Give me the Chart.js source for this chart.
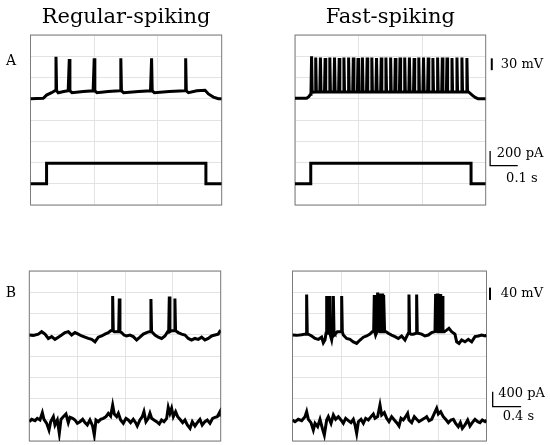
<!DOCTYPE html>
<html><head><meta charset="utf-8">
<script src="https://cdn.jsdelivr.net/npm/chart.js@4.4.1/dist/chart.umd.min.js"></script>
<style>
html,body{margin:0;padding:0;background:#fff;width:550px;height:445px;overflow:hidden}
.w{position:absolute}
</style></head><body>
<div class="w" style="left:0;top:0;width:275px;height:230px"><canvas id="cA1"></canvas></div>
<div class="w" style="left:275px;top:0;width:275px;height:230px"><canvas id="cA2"></canvas></div>
<div class="w" style="left:0;top:230px;width:275px;height:215px"><canvas id="cB1"></canvas></div>
<div class="w" style="left:275px;top:230px;width:275px;height:215px"><canvas id="cB2"></canvas></div>
<script>
// ---------- Panel A, regular-spiking (time ms, voltage mV, current pA)
const rsVoltT = [0,46,58,76,88,100,120,136,150,190,226,240,280,322,336,390,433,447,500,556,570,600,630,642,660,678,690];
const rsVoltV = [-66,-65,-57,-51,-46,-51,-48,-46,-51,-48,-46,-51,-48,-46,-51,-48,-46,-51,-48,-46,-51,-46,-45,-54,-62,-66,-66];
const rsSpikeT = [92,140,230,326,437,560];
const rsSpikePeak = [40,34,36,36,36,36];
const rsSpikeFoot = [-46,-46,-46,-46,-46,-46];
const rsCurT = [0,58,58,633,633,690];
const rsCurI = [0,0,280,280,0,0];

// ---------- Panel A, fast-spiking
const fsVoltT = [0,42,50,56,628,641,652,662,690];
const fsVoltV = [-65,-65,-61,-55,-49,-57,-63,-66,-66];
const fsSpikeT = [60,75,92,109,126, 143,160,177,194,211, 228,244,261,278,295, 312,329,346,363,380, 397,414,431,448,465, 482,499,516,533,550, 568,586,604,622];
const fsSpikePeak = [41,38,38,37,38, 38,37,38,38,38, 37,38,38,38,37, 38,38,38,37,38, 38,38,37,38,38, 38,37,38,38,38, 37,38,38,37];
const fsSpikeFoot = [-50,-49,-49,-49,-49, -49,-49,-49,-49,-49, -49,-49,-49,-49,-49, -49,-49,-49,-49,-49, -49,-49,-49,-49,-49, -49,-49,-49,-49,-49, -49,-49,-49,-49];
const fsCurT = [0,57,57,637,637,690];
const fsCurI = [0,0,280,280,0,0];

// ---------- Panel B, regular-spiking
const blVoltT = [0,57,129,176,224,271,319,366,414,461,509,557,604,652,699,747,794,842,889,937,984,1032,1079,1127,1160,1212,1317,1350,1388,1436,1483,1531,1578,1626,1673,1711,1759,1792,1840,1887,1935,1973,2030,2125,2172,2220,2268,2315,2363,2410,2458,2505,2553,2600,2648,2695,2729];
const blVoltV = [-66,-67,-63,-55,-63,-77,-71,-80,-73,-66,-58,-55,-66,-58,-63,-69,-73,-77,-80,-88,-73,-69,-63,-58,-52,-55,-58,-66,-69,-66,-71,-82,-73,-63,-58,-55,-58,-66,-73,-77,-69,-55,-52,-58,-63,-66,-77,-82,-77,-80,-73,-82,-77,-69,-66,-63,-50];
const blSpikeT = [1189,1284,1735,1997,2077];
const blSpikePeak = [61,53,51,59,53];
const blSpikeFoot = [-52,-55,-55,-55,-52];
const blCurT = [0,34,81,114,152,186,209,248,281,305,343,366,400,428,452,485,523,556,580,618,651,685,723,761,794,827,865,903,927,951,984,1018,1056,1094,1127,1160,1189,1212,1246,1270,1303,1341,1379,1412,1445,1483,1517,1540,1578,1612,1635,1664,1697,1721,1745,1778,1816,1854,1887,1921,1959,1982,2006,2030,2054,2087,2116,2149,2187,2220,2254,2292,2325,2363,2396,2434,2467,2505,2539,2577,2615,2648,2681,2719,2729];
const blCurI = [-51,12,-24,38,-6,190,12,-95,-273,-51,83,-140,-6,-362,12,83,154,-77,65,38,-6,-95,-51,12,-77,-140,-6,-166,-407,-6,-51,12,38,83,172,100,394,154,83,172,-6,-95,38,-6,-77,12,-77,-166,-6,83,216,-51,38,172,38,-6,-51,-113,-6,-51,38,332,172,305,83,216,83,12,-77,-6,-140,-229,-51,-166,-77,12,-140,-51,-6,-95,38,65,83,216,83];

// ---------- Panel B, fast-spiking
const brVoltT = [0,59,129,176,223,270,317,364,410,434,457,495,532,551,598,631,715,762,809,856,903,950,997,1044,1090,1123,1170,1316,1348,1395,1442,1489,1536,1583,1667,1700,1771,1817,1864,1911,1958,2136,2169,2202,2239,2286,2310,2343,2380,2427,2474,2521,2568,2615,2662,2709,2730];
const brVoltV = [-66,-67,-65,-63,-63,-69,-77,-80,-73,-91,-82,-55,-66,-82,-63,-55,-66,-77,-80,-88,-93,-82,-73,-69,-63,-55,-66,-55,-60,-66,-71,-77,-69,-82,-63,-63,-60,-63,-69,-66,-58,-55,-50,-44,-55,-63,-88,-93,-82,-88,-80,-88,-71,-69,-66,-69,-66];
const brSpikeT = [199,481,518,575,692,1151,1198,1222,1245,1269,1287,1639,1747,2014,2038,2061,2085,2108];
const brSpikePeak = [66,61,61,61,61,64,72,69,64,69,64,66,66,67,69,64,67,61];
const brSpikeFoot = [-63,-60,-55,-60,-55,-55,-55,-55,-55,-55,-55,-60,-60,-55,-55,-55,-55,-55];
const brCurT = [0,35,82,129,176,199,223,260,293,317,354,387,420,448,481,504,542,575,607,645,682,715,748,786,823,856,880,903,927,964,997,1030,1067,1105,1137,1161,1198,1231,1255,1292,1325,1358,1395,1433,1466,1499,1527,1559,1592,1620,1639,1677,1714,1747,1780,1817,1855,1888,1921,1958,1996,2029,2052,2085,2122,2155,2193,2230,2263,2296,2333,2362,2390,2427,2465,2497,2530,2568,2606,2638,2671,2709,2730];
const brCurI = [-6,-51,12,-24,83,216,12,-77,-273,-95,-184,12,-229,-407,-6,83,-95,127,12,83,-6,-95,38,-24,-77,12,-140,-362,-51,12,-95,38,-6,83,154,38,83,394,127,190,38,-51,83,-6,-77,-166,38,-6,83,172,-6,-77,83,12,-51,-6,38,83,-24,12,172,305,154,216,83,12,-77,-6,12,-95,-184,-77,-229,-140,-6,-166,-77,12,-51,-77,-6,-51,-6];

// ---------- Scale bars (data units); L-bars listed from the corner's far end
const aBarVoltT = [712,712];   const aBarVoltV = [6,36];        // 30 mV
const aBarCurT = [806,706,706]; const aBarCurI = [246,246,446]; // 0.1 s / 200 pA
const bBarVoltT = [2779,2779];  const bBarVoltV = [48,88];       // 40 mV
const bBarCurT = [3217,2817,2817]; const bBarCurI = [349,349,749]; // 0.4 s / 400 pA

const titles = ['Regular-spiking','Fast-spiking'];
const rowLabels = ['A','B'];

// ---------- helpers
function pts(ts, vs){ return ts.map((t,i)=>({x:t,y:vs[i]})); }
function withSpikes(ts, vs, st, sp, sf, w){
  const p = pts(ts, vs);
  st.forEach((t,i)=>{ p.push({x:t-w,y:sf[i]},{x:t,y:sp[i]},{x:t+w,y:sf[i]}); });
  p.sort((a,b)=>a.x-b.x);
  return p;
}
function gridTicks(n){
  return s => { const a=[]; for(let k=0;k<=n;k++) a.push({value: s.min + k*(s.max-s.min)/n}); s.ticks = a; };
}
const GRID = '#e3e3e3';
const framePlugin = {id:'frame', beforeDatasetsDraw(chart){
  const {ctx, chartArea:a} = chart; ctx.save();
  ctx.strokeStyle = '#7c7c7c'; ctx.lineWidth = 1;
  ctx.strokeRect(a.left, a.top, a.right-a.left, a.bottom-a.top);
  ctx.restore();
}};
function textPlugin(items){
  return {id:'txt', afterDraw(chart){
    const ctx = chart.ctx; ctx.save(); ctx.fillStyle = '#000';
    items.forEach(it=>{
      const p = it.pos(chart);
      ctx.font = it.font; ctx.textAlign = it.align || 'left'; ctx.textBaseline = it.base || 'alphabetic';
      ctx.fillText(it.text, p[0], p[1]);
    });
    ctx.restore();
  }};
}
const SERIF = '"DejaVu Serif", "Liberation Serif", serif';
function panel(id, o){
  const ds = o.datasets.map(d => Object.assign({pointRadius:0, borderColor:'#000', backgroundColor:'#000', fill:false, tension:0, borderWidth:2.5, xAxisID:'x'}, d));
  return new Chart(document.getElementById(id), {
    type:'line',
    data:{datasets: ds},
    options:{
      responsive:true, maintainAspectRatio:false, animation:false, events:[],
      layout:{padding:o.pad},
      plugins:{legend:{display:false}, tooltip:{enabled:false}, title:{display:false}},
      scales:{
        x:{type:'linear', bounds:'data', min:0, max:o.tmax, afterBuildTicks:gridTicks(o.nx), ticks:{display:false}, grid:{color:GRID, drawTicks:false}, border:{display:false}},
        v:{type:'linear', bounds:'data', position:'left', min:o.vmin, max:o.vmax, afterBuildTicks:gridTicks(8), ticks:{display:false}, grid:{color:GRID, drawTicks:false}, border:{display:false}},
        i:{type:'linear', bounds:'data', position:'right', min:o.imin, max:o.imax, display:false}
      }
    },
    plugins:[framePlugin, textPlugin(o.texts || [])]
  });
}
const titleItem = (t) => ({text:t, font:'21px '+SERIF, align:'center', pos:c=>[(c.chartArea.left+c.chartArea.right)/2, c.chartArea.top-12.3]});
const px = (c,ax,v) => c.scales[ax].getPixelForValue(v);

// A-left
panel('cA1', {pad:{left:30.5, top:35, right:53.3, bottom:25}, tmax:690, nx:3, vmin:-335, vmax:95, imin:-290, imax:2030,
  datasets:[
    {data: withSpikes(rsVoltT, rsVoltV, rsSpikeT, rsSpikePeak, rsSpikeFoot, 2.2), yAxisID:'v', borderWidth:3},
    {data: pts(rsCurT, rsCurI), yAxisID:'i', borderWidth:3}
  ],
  texts:[titleItem(titles[0]), {text:rowLabels[0], font:'14px '+SERIF, align:'center', pos:c=>[c.chartArea.left-19.5, c.chartArea.top+30]}]
});
// A-right
panel('cA2', {pad:{left:20, top:35, right:64.3, bottom:25}, tmax:690, nx:3, vmin:-335, vmax:95, imin:-290, imax:2030,
  datasets:[
    {data: withSpikes(fsVoltT, fsVoltV, fsSpikeT, fsSpikePeak, fsSpikeFoot, 2.2), yAxisID:'v', borderWidth:3},
    {data: pts(fsCurT, fsCurI), yAxisID:'i', borderWidth:3},
    {data: pts(aBarVoltT, aBarVoltV), yAxisID:'v', borderWidth:2, clip:false},
    {data: pts(aBarCurT, aBarCurI), yAxisID:'i', borderWidth:1.3, clip:false}
  ],
  texts:[titleItem(titles[1]),
    {text:'30 mV', font:'13px '+SERIF, base:'middle', pos:c=>[px(c,'x',aBarVoltT[0])+9, (px(c,'v',aBarVoltV[0])+px(c,'v',aBarVoltV[1]))/2]},
    {text:'200 pA', font:'13px '+SERIF, base:'middle', pos:c=>[px(c,'x',aBarCurT[1])+6.7, px(c,'i',aBarCurI[2])+2.3]},
    {text:'0.1 s', font:'13px '+SERIF, base:'middle', pos:c=>[px(c,'x',aBarCurT[1])+16, px(c,'i',aBarCurI[1])+12.6]}
  ]
});
// B-left
panel('cB1', {pad:{left:29.3, top:41, right:54.3, bottom:4}, tmax:2730, nx:4, vmin:-410, vmax:142, imin:-567, imax:3973,
  datasets:[
    {data: withSpikes(blVoltT, blVoltV, blSpikeT, blSpikePeak, blSpikeFoot, 9), yAxisID:'v', borderWidth:3},
    {data: pts(blCurT, blCurI), yAxisID:'i', borderWidth:3}
  ],
  texts:[{text:rowLabels[1], font:'14px '+SERIF, align:'center', pos:c=>[c.chartArea.left-18.3, c.chartArea.top+25.7]}]
});
// B-right
panel('cB2', {pad:{left:17.5, top:41, right:63.5, bottom:4}, tmax:2730, nx:4, vmin:-410, vmax:142, imin:-567, imax:3973,
  datasets:[
    {data: withSpikes(brVoltT, brVoltV, brSpikeT, brSpikePeak, brSpikeFoot, 9), yAxisID:'v', borderWidth:3},
    {data: pts(brCurT, brCurI), yAxisID:'i', borderWidth:3},
    {data: pts(bBarVoltT, bBarVoltV), yAxisID:'v', borderWidth:2, clip:false},
    {data: pts(bBarCurT, bBarCurI), yAxisID:'i', borderWidth:1.3, clip:false}
  ],
  texts:[
    {text:'40 mV', font:'13px '+SERIF, base:'middle', pos:c=>[px(c,'x',bBarVoltT[0])+10.7, (px(c,'v',bBarVoltV[0])+px(c,'v',bBarVoltV[1]))/2]},
    {text:'400 pA', font:'13px '+SERIF, base:'middle', pos:c=>[px(c,'x',bBarCurT[1])+5.6, px(c,'i',bBarCurI[2])+1.6]},
    {text:'0.4 s', font:'13px '+SERIF, base:'middle', pos:c=>[px(c,'x',bBarCurT[1])+10, px(c,'i',bBarCurI[1])+10]}
  ]
});
</script>
</body></html>
